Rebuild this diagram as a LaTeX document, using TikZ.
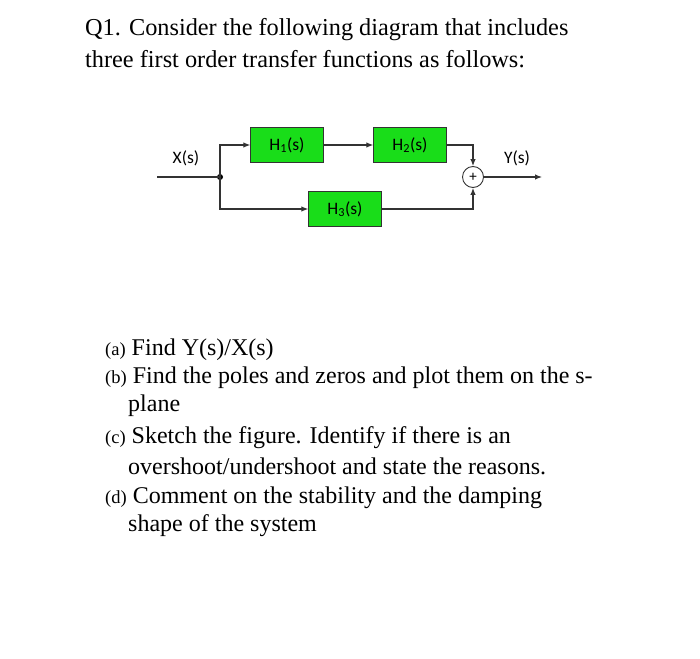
\documentclass[tikz,border=0pt]{standalone}
\usepackage{fontspec}
\setmainfont{Liberation Serif}
\newfontfamily\calfont{Carlito}
\usetikzlibrary{arrows.meta}
\begin{document}
\begin{tikzpicture}[x=1pt,y=-1pt,
  blk/.style={draw=black!80,fill=green!85!black!90,minimum width=73pt,minimum height=35pt,inner sep=0pt,font=\calfont\fontsize{17.5}{19}\selectfont},
  ln/.style={draw=black!80,line width=1.1pt},
  ar/.style={ln,-{Latex[length=7pt,width=5.5pt]}},
  txt/.style={anchor=west,inner sep=0pt,font=\fontsize{24.3}{28}\selectfont},
  itm/.style={anchor=west,inner sep=0pt,font=\fontsize{24}{28}\selectfont}]
\useasboundingbox (0,0) rectangle (700,658);
\node[txt] (t1) at (85,30) {Q1. Consider the following diagram that includes};
\node[txt] (t2) at (85,59) {three first order transfer functions as follows:};
\node[blk] (h1) at (287,145) {H\textsubscript{1}(s)};
\node[blk] (h2) at (410,145) {H\textsubscript{2}(s)};
\node[blk] (h3) at (345,209) {H\textsubscript{3}(s)};
\node[circle,draw=black!80,line width=0.9pt,minimum size=21pt,inner sep=0pt,font=\calfont\fontsize{15}{16}\selectfont] (sum) at (473,177) {+};
\coordinate (in) at (157,177);
\coordinate (j) at (220,177);
\coordinate (out) at (542,177);
\fill[black] (j) circle (3pt);
\node[font=\calfont\fontsize{17.5}{19}\selectfont] (xl) at (186,158) {X(s)};
\node[font=\calfont\fontsize{17.5}{19}\selectfont] (yl) at (517,158) {Y(s)};
\draw[ln] (in) -- (j);
\draw[ar] (j) |- (h1.west);
\draw[ar] (j) |- (h3.west);
\draw[ar] (h1) -- (h2);
\draw[ar] (h2.east) -| (sum.north);
\draw[ar] (h3.east) -| (sum.south);
\draw[ar] (sum) -- (out);
\newcommand\lb[1]{{\fontsize{18.5}{22}\selectfont(#1)}}
\node[itm] (a) at (105,350) {\lb{a} Find Y(s)/X(s)};
\node[itm] (b1) at (105,378) {\lb{b} Find the poles and zeros and plot them on the s-};
\node[itm] (b2) at (128,406) {plane};
\node[itm] (c1) at (105,438) {\lb{c} Sketch the figure. Identify if there is an};
\node[itm] (c2) at (128,466) {overshoot/undershoot and state the reasons.};
\node[itm] (d1) at (105,498) {\lb{d} Comment on the stability and the damping};
\node[itm] (d2) at (128,526) {shape of the system};
\end{tikzpicture}
\end{document}
